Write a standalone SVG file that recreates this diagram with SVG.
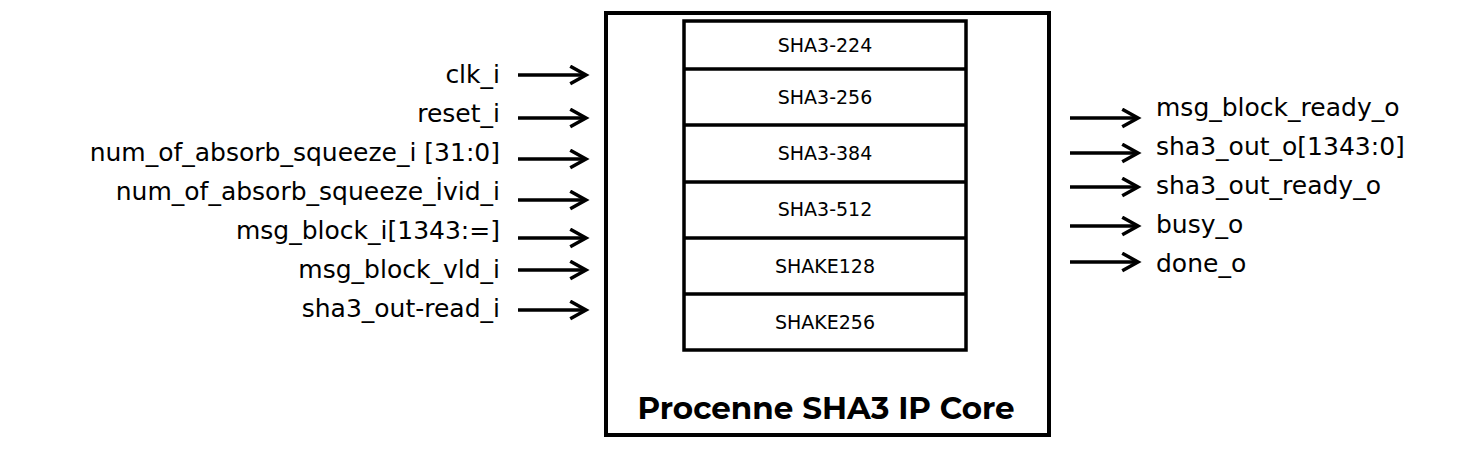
<svg xmlns="http://www.w3.org/2000/svg" width="1473" height="453" viewBox="0 0 1473 453">
<style>
.t{font-family:"DejaVu Sans","Liberation Sans",sans-serif;font-size:25px;fill:#000}
.l{text-anchor:end}
.c{font-family:"DejaVu Sans","Liberation Sans",sans-serif;font-size:19px;text-anchor:middle}
.a{stroke:#000;stroke-width:3.5;fill:none;marker-end:url(#ah)}
</style>
<defs><marker id="ah" markerWidth="6" markerHeight="6" refX="5" refY="3" orient="auto" markerUnits="strokeWidth"><path d="M0.5,0.5 L5,3 L0.5,5.5" fill="none" stroke="#000" stroke-width="1"/></marker></defs>
<rect width="1473" height="453" fill="#fff"/>
<g id="core">
<rect x="606" y="13" width="443" height="422" fill="#fff" stroke="#000" stroke-width="4"/>
<text x="826" y="419" font-family="Montserrat,'Liberation Sans',sans-serif" font-weight="bold" font-size="31" text-anchor="middle">Procenne SHA3 IP Core</text>
</g>
<g id="algos" fill="#fff" stroke="#000" stroke-width="3.5">
<rect x="684" y="21" width="282" height="329"/>
<path d="M684 69H966M684 125H966M684 182H966M684 238H966M684 294H966"/>
</g>
<g id="algo-labels" class="c">
<text x="825" y="52">SHA3-224</text>
<text x="825" y="104">SHA3-256</text>
<text x="825" y="160">SHA3-384</text>
<text x="825" y="216">SHA3-512</text>
<text x="825" y="273">SHAKE128</text>
<text x="825" y="329">SHAKE256</text>
</g>
<g id="inputs" class="t l">
<text x="500" y="83">clk_i</text>
<text x="500" y="122">reset_i</text>
<text x="500" y="161">num_of_absorb_squeeze_i [31:0]</text>
<text x="500" y="200">num_of_absorb_squeeze_İvid_i</text>
<text x="500" y="239">msg_block_i[1343:=]</text>
<text x="500" y="278">msg_block_vld_i</text>
<text x="500" y="317">sha3_out-read_i</text>
</g>
<g id="outputs" class="t">
<text x="1156" y="116">msg_block_ready_o</text>
<text x="1156" y="155">sha3_out_o[1343:0]</text>
<text x="1156" y="194">sha3_out_ready_o</text>
<text x="1156" y="233">busy_o</text>
<text x="1156" y="272">done_o</text>
</g>
<g id="connectors">
<path class="a" d="M518 75H586"/>
<path class="a" d="M518 118H586"/>
<path class="a" d="M518 159H586"/>
<path class="a" d="M518 200H586"/>
<path class="a" d="M518 238H586"/>
<path class="a" d="M518 270H586"/>
<path class="a" d="M518 310H586"/>
<path class="a" d="M1070 118H1138"/>
<path class="a" d="M1070 153H1138"/>
<path class="a" d="M1070 187H1138"/>
<path class="a" d="M1070 226H1138"/>
<path class="a" d="M1070 262H1138"/>
</g>
</svg>
